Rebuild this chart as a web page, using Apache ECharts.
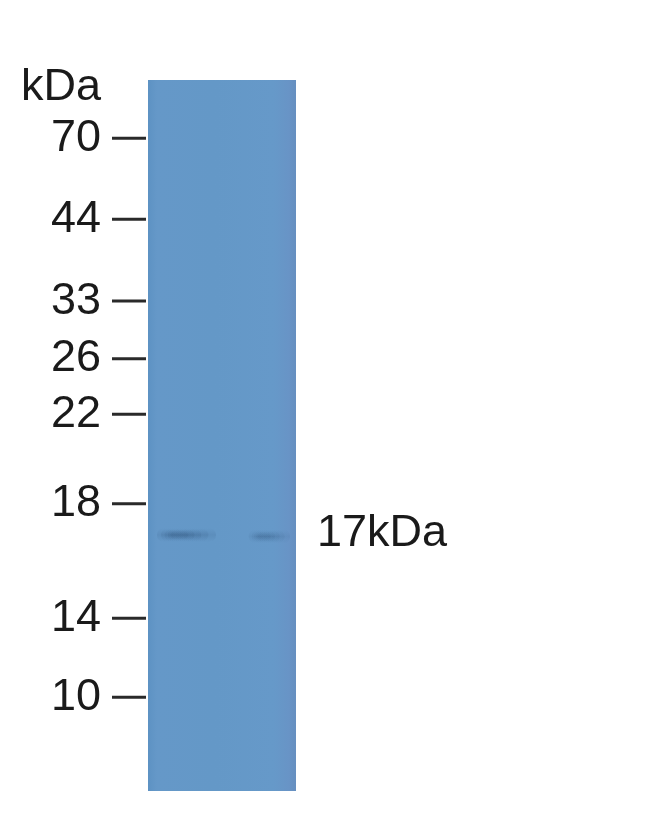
<!DOCTYPE html>
<html>
<head>
<meta charset="utf-8">
<script src="https://cdn.jsdelivr.net/npm/echarts@6/dist/echarts.min.js"></script>
<style>
html,body{margin:0;padding:0;background:#ffffff;}
#chart{width:650px;height:839px;}
</style>
</head>
<body>
<div id="chart"></div>
<script>
// Molecular-weight marker ladder (kDa) and relative migration (Rf, 0 = lane top, 1 = lane bottom)
const markerKDa = [70, 44, 33, 26, 22, 18, 14, 10];
const markerRf  = [0.082, 0.196, 0.311, 0.392, 0.470, 0.596, 0.757, 0.868];
const unitLabel = 'kDa';

// Detected bands: lane position across the strip (0..1), migration, width, intensity
const bandLanePos   = [0.26, 0.82];
const bandRf        = [0.640, 0.642];
const bandWidth     = [0.40, 0.28];
const bandIntensity = [1.0, 0.7];
const bandLabel     = '17kDa';

const FONT = '"Liberation Sans", Arial, Helvetica, sans-serif';
const FS = 45;
const chart = echarts.init(document.getElementById('chart'), null, {renderer: 'canvas'});

function bandFill(alpha) {
  return new echarts.graphic.LinearGradient(0, 0, 0, 1, [
    {offset: 0, color: 'rgba(40,75,115,0)'},
    {offset: 0.5, color: 'rgba(40,75,115,' + alpha + ')'},
    {offset: 1, color: 'rgba(40,75,115,0)'}
  ]);
}

const option = {
  backgroundColor: '#ffffff',
  animation: false,
  grid: {left: 148, right: 354, top: 80, bottom: 48},
  xAxis: {type: 'value', min: 0, max: 1, show: false},
  yAxis: {type: 'value', min: 0, max: 1, inverse: true, show: false},
  series: [
    {
      // membrane lane
      type: 'custom',
      data: [[0, 0, 1, 1]],
      renderItem: function (params, api) {
        const p0 = api.coord([api.value(0), api.value(1)]);
        const p1 = api.coord([api.value(2), api.value(3)]);
        return {
          type: 'rect',
          shape: {x: p0[0], y: p0[1], width: p1[0] - p0[0], height: p1[1] - p0[1]},
          style: {
            fill: new echarts.graphic.LinearGradient(0, 0, 1, 0, [
              {offset: 0, color: '#5d92c3'},
              {offset: 0.06, color: '#6598c8'},
              {offset: 0.45, color: '#6498c7'},
              {offset: 0.85, color: '#6699c9'},
              {offset: 0.95, color: '#6894c6'},
              {offset: 1, color: '#668fc0'}
            ])
          }
        };
      }
    },
    {
      // bands (soft, layered)
      type: 'custom',
      data: bandLanePos.map((x, i) => [x, bandRf[i], bandWidth[i], bandIntensity[i]]),
      renderItem: function (params, api) {
        const c = api.coord([api.value(0), api.value(1)]);
        const l = api.coord([api.value(0) - api.value(2) / 2, api.value(1)]);
        const r = api.coord([api.value(0) + api.value(2) / 2, api.value(1)]);
        const a = api.value(3);
        const w = r[0] - l[0];
        const layers = [1.0, 0.8, 0.62, 0.45, 0.3];
        const children = layers.map(function (f, k) {
          const lw = w * f;
          const h = 14 - k * 1.2;
          return {
            type: 'rect',
            shape: {x: c[0] - lw / 2 - w * 0.03 * k, y: c[1] - h / 2, width: lw, height: h, r: h / 2},
            style: {fill: bandFill(a * 0.13)}
          };
        });
        return {type: 'group', children: children};
      }
    },
    {
      // band annotation
      type: 'custom',
      data: [[1, bandRf[0]]],
      renderItem: function (params, api) {
        const p = api.coord([api.value(0), api.value(1)]);
        return {
          type: 'text',
          style: {
            x: p[0] + 21, y: p[1] - 1, text: bandLabel,
            font: FS + 'px ' + FONT, fill: '#1a1a1a',
            textAlign: 'left', textVerticalAlign: 'middle'
          }
        };
      }
    },
    {
      // marker ladder: ticks + labels
      type: 'custom',
      data: markerRf.map((rf, i) => [0, rf, markerKDa[i]]),
      renderItem: function (params, api) {
        const p = api.coord([api.value(0), api.value(1)]);
        return {
          type: 'group',
          children: [
            {
              type: 'line',
              shape: {x1: p[0] - 36, y1: p[1], x2: p[0] - 2, y2: p[1]},
              style: {stroke: '#2a2a2a', lineWidth: 3}
            },
            {
              type: 'text',
              style: {
                x: p[0] - 47, y: p[1], text: String(api.value(2)),
                font: FS + 'px ' + FONT, fill: '#1a1a1a',
                textAlign: 'right', textVerticalAlign: 'middle'
              }
            }
          ]
        };
      }
    },
    {
      // unit label above ladder
      type: 'custom',
      data: [[0, 0]],
      renderItem: function (params, api) {
        const p = api.coord([api.value(0), api.value(1)]);
        return {
          type: 'text',
          style: {
            x: p[0] - 47, y: p[1] + 8, text: unitLabel,
            font: FS + 'px ' + FONT, fill: '#1a1a1a',
            textAlign: 'right', textVerticalAlign: 'middle'
          }
        };
      }
    }
  ]
};
chart.setOption(option);
</script>
</body>
</html>
